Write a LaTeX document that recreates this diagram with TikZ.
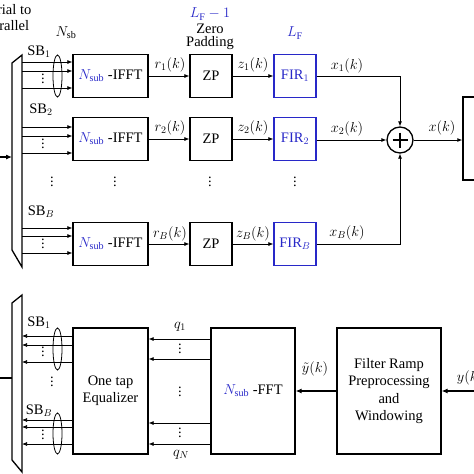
\documentclass[tikz,border=0pt]{standalone}
\usepackage{fontspec}
\setmainfont{Liberation Serif}
\usetikzlibrary{arrows.meta,calc}
\definecolor{myblue}{RGB}{40,40,200}
\begin{document}
\begin{tikzpicture}[x=1pt,y=-1pt, font=\rmfamily\fontsize{14.5}{17.3}\selectfont,
 box/.style={draw, line width=1.3pt, minimum width=75pt, minimum height=43pt, inner sep=0pt},
 sbox/.style={draw, line width=1.3pt, minimum width=42pt, minimum height=43pt, inner sep=0pt},
 firbox/.style={sbox, draw=myblue, text=myblue},
 bbox/.style={draw, line width=1.3pt, minimum height=126pt, inner sep=0pt, align=center},
 arr/.style={-{Latex[length=5pt,width=4pt]}, line width=0.7pt},
 tarr/.style={-{Latex[length=6pt,width=5pt]}, line width=1.1pt},
 lab/.style={inner sep=0pt},
 vd/.style={inner sep=0pt, yshift=3.5pt},
 trap/.style={line width=1.3pt},
 ell/.style={line width=0.8pt}
]
\useasboundingbox (0,0) rectangle (474,474);

% ---------- top section ----------
\node[lab, align=center, font=\rmfamily\fontsize{14.5}{16}\selectfont] (sp) at (7,18) {Serial to\\Parallel};
\draw[trap] (12,250) -- (12,63) -- (22,55) -- (22,267) -- cycle;
\coordinate (inS) at (-5,157);
\coordinate (inE) at (12,157);
\draw[tarr] (inS) -- (inE);

\node[box] (ifft1) at (110.5,76) {\textcolor{myblue}{$N_{\mathrm{sub}}$} -IFFT};
\node[box] (ifft2) at (110.5,139) {\textcolor{myblue}{$N_{\mathrm{sub}}$} -IFFT};
\node[box] (ifftB) at (110.5,244) {\textcolor{myblue}{$N_{\mathrm{sub}}$} -IFFT};

\node[sbox] (zp1) at (211,76) {ZP};
\node[sbox] (zp2) at (211,139) {ZP};
\node[sbox] (zpB) at (211,244) {ZP};

\node[firbox] (fir1) at (295,76) {FIR$_1$};
\node[firbox] (fir2) at (295,139) {FIR$_2$};
\node[firbox] (firB) at (295,244) {FIR$_B$};

\foreach \y in {62,71,88,127,136,153,228,236,253}{
  \coordinate (t) at (22,\y);
  \draw[arr] (t) -- (t -| ifft1.west);
}
\node[vd] (d1) at (43,79) {$\vdots$};
\node[vd] (d2) at (43,144) {$\vdots$};
\node[vd] (d3) at (43,244) {$\vdots$};
\node[vd] (dm1) at (52,182) {$\vdots$};
\node[vd] (dm2) at (115,182) {$\vdots$};
\node[vd] (dm3) at (210,182) {$\vdots$};
\node[vd] (dm4) at (295,182) {$\vdots$};

\draw[ell] (57.5,76) ellipse [x radius=4.5, y radius=21];
\node[lab] (nsb) at (66,33) {$N_{\mathrm{sb}}$};
\node[lab] (sb1) at (39,52) {SB$_1$};
\node[lab] (sb2) at (41,110) {SB$_2$};
\node[lab] (sbB) at (41,212) {SB$_B$};

\node[lab, text=myblue] (lf1) at (210,14) {$L_{\mathrm{F}}-1$};
\node[lab, align=center, font=\rmfamily\fontsize{14.5}{12.5}\selectfont] (zpad) at (210,37) {Zero\\Padding};
\node[lab, text=myblue] (lf) at (295,33) {$L_{\mathrm{F}}$};

\draw[arr] (ifft1) -- (zp1);
\draw[arr] (ifft2) -- (zp2);
\draw[arr] (ifftB) -- (zpB);
\draw[arr] (zp1) -- (fir1);
\draw[arr] (zp2) -- (fir2);
\draw[arr] (zpB) -- (firB);
\node[lab] (r1) at (170,65) {$r_1(k)$};
\node[lab] (r2) at (170,128) {$r_2(k)$};
\node[lab] (rB) at (170,234) {$r_B(k)$};
\node[lab] (z1) at (253,65) {$z_1(k)$};
\node[lab] (z2) at (253,128) {$z_2(k)$};
\node[lab] (zB) at (253,234) {$z_B(k)$};

\node[circle, draw, line width=1.3pt, minimum size=26pt, inner sep=0pt] (sum) at (400,140) {};
\draw[line width=1.4pt] ($(sum.center)+(-7.5,0)$) -- ($(sum.center)+(7.5,0)$);
\draw[line width=1.4pt] ($(sum.center)+(0,-7.5)$) -- ($(sum.center)+(0,7.5)$);

\draw[arr, line width=0.8pt] (fir1.east) -| (sum.north);
\draw[arr, line width=0.8pt] (fir2.east |- sum) -- (sum.west);
\draw[arr, line width=0.8pt] (firB.east) -| (sum.south);
\node[lab] (x1) at (347,66) {$x_1(k)$};
\node[lab] (x2) at (347,129) {$x_2(k)$};
\node[lab] (xB) at (347,233) {$x_B(k)$};

\node[draw, line width=1.3pt, minimum width=40pt, minimum height=83pt, inner sep=0pt] (rbox) at (483,138.5) {};
\draw[arr, line width=0.9pt] (sum.east) -- (sum.east -| rbox.west);
\node[lab] (xk) at (442,128) {$x(k)$};

% ---------- bottom section ----------
\draw[trap] (12,460) -- (12,303) -- (22,295) -- (22,472) -- cycle;
\coordinate (outS) at (12,378);
\coordinate (outE) at (-8,378);
\draw[tarr] (outS) -- (outE);

\node[bbox, minimum width=75pt] (eq) at (110.5,391) {One tap\\Equalizer};
\node[bbox, minimum width=84pt] (fft) at (253,391) {\textcolor{myblue}{$N_{\mathrm{sub}}$} -FFT};
\node[bbox, minimum width=104pt] (filt) at (389,391) {Filter Ramp\\Preprocessing\\and\\Windowing};

\foreach \y in {336,345,362,420,427,444}{
  \coordinate (t) at (22,\y);
  \draw[arr] (t -| eq.west) -- (t);
}
\draw[ell] (57.5,349) ellipse [x radius=4.5, y radius=21];
\draw[ell] (57.5,433.5) ellipse [x radius=4.5, y radius=20.5];
\node[vd] (e1) at (43,352) {$\vdots$};
\node[vd] (e2) at (52,382) {$\vdots$};
\node[vd] (e3) at (43,435) {$\vdots$};
\node[lab] (bsb1) at (39,323) {SB$_1$};
\node[lab] (bsbB) at (39,411) {SB$_B$};

\foreach \y in {339,359,423,444}{
  \coordinate (t) at (211,\y);
  \draw[arr] (t -| fft.west) -- (t -| eq.east);
}
\node[vd] (q1d) at (180,349) {$\vdots$};
\node[vd] (qmd) at (180,392) {$\vdots$};
\node[vd] (qNd) at (180,433) {$\vdots$};
\node[lab] (q1) at (180,327) {$q_1$};
\node[lab] (qN) at (181,455) {$q_N$};

\draw[tarr] (filt.west) -- (fft.east);
\node[lab] (yt) at (315,369) {$\tilde{y}(k)$};
\coordinate (yin) at (485,391);
\draw[tarr] (yin) -- (filt.east);
\node[lab] (yk) at (470,378) {$y(k)$};
\end{tikzpicture}
\end{document}
